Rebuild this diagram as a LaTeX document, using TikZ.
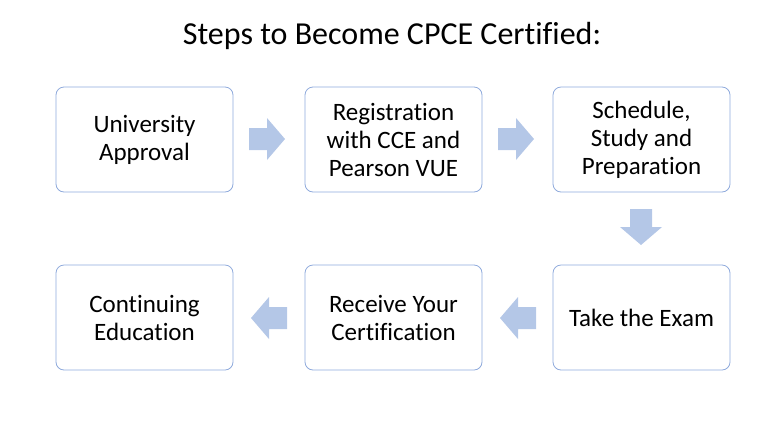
\documentclass[tikz,border=0pt]{standalone}
\usepackage{fontspec}
\setmainfont[Ligatures=NoCommon]{Carlito}
\definecolor{bd}{HTML}{8FAADC}
\definecolor{ar}{HTML}{B4C7E7}
\begin{document}
\begin{tikzpicture}[x=1pt,y=-1pt,
 box/.style={draw=bd,line width=0.8pt,rounded corners=8pt,minimum width=177pt,minimum height=105pt,align=center,font=\fontsize{25}{28}\selectfont,text=black},
 arr/.style={fill=ar,draw=none}]
\useasboundingbox (0,0) rectangle (768,432);
\node[font=\fontsize{32}{36}\selectfont,text=black] (t) at (392,36) {Steps to Become CPCE Certified:};
\node[box] (a) at (144.5,139.5) {University\\Approval};
\node[box] (b) at (393.5,139.5) {Registration\\with CCE and\\Pearson VUE};
\node[box] (c) at (641.5,139.5) {Schedule,\\Study and\\Preparation};
\node[box] (d) at (641.5,317.5) {Take the Exam};
\node[box] (e) at (393.5,317.5) {Receive Your\\Certification};
\node[box] (f) at (144.5,317.5) {Continuing\\Education};
\foreach \n/\x/\y/\r in {a1/267/139/0, a2/516/139/0, a3/641/227/-90, a4/518/318/180, a5/269/318/180}{
  \coordinate (\n) at (\x,\y);
  \fill[arr,shift={(\n)},rotate=\r] (-18,-11) -- (0,-11) -- (0,-21) -- (18,0) -- (0,21) -- (0,11) -- (-18,11) -- cycle;
}
\end{tikzpicture}
\end{document}
